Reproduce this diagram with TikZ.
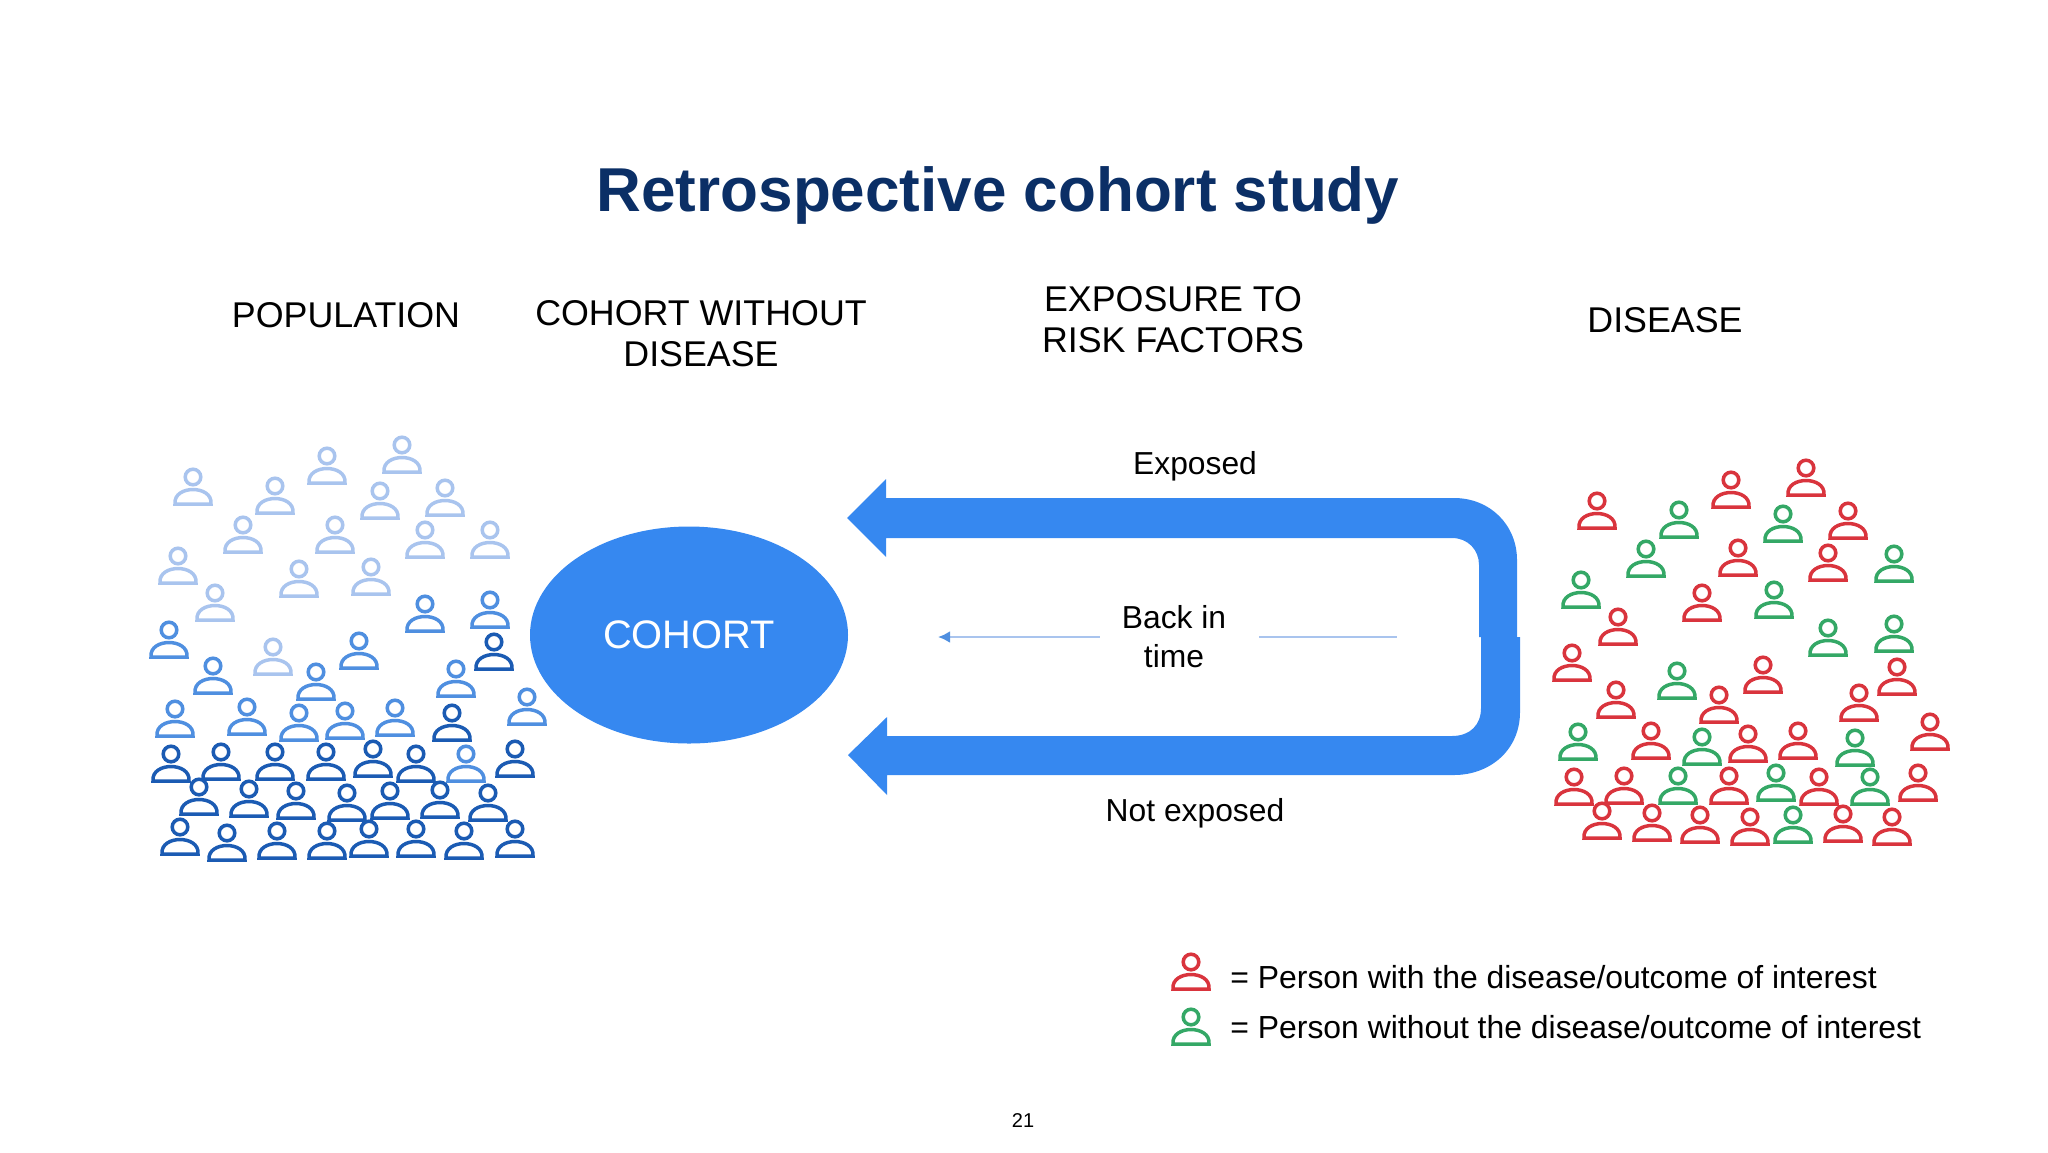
\documentclass[tikz,border=0pt]{standalone}
\usepackage{fontspec}
\setmainfont{Liberation Sans}
\usetikzlibrary{positioning,shapes.geometric,arrows.meta}
\definecolor{titlenavy}{HTML}{0B2F66}
\definecolor{bandblue}{HTML}{3688F0}
\definecolor{popl}{HTML}{A9C4EE}
\definecolor{popm}{HTML}{4F8FE0}
\definecolor{popd}{HTML}{1B5BB3}
\definecolor{sickred}{HTML}{D9343D}
\definecolor{wellgreen}{HTML}{34A866}
\tikzset{
	head/.style={font=\fontsize{17.9}{20.5}\selectfont,align=center,inner sep=0pt},
	small/.style={font=\fontsize{15.9}{19.5}\selectfont,align=center,inner sep=0pt},
	legend/.style={font=\fontsize{15.95}{19}\selectfont,anchor=west,inner sep=0pt},
	band/.style={fill=bandblue},
	timeline/.style={draw=popl,line width=1.4pt},
}
% one person, head centre at (#1,#2)
\newcommand{\person}[3]{
	\begin{scope}[shift={(#1,#2)},draw=#3,line width=1.75pt]
		\draw (0,0) circle (7.8);
		\draw (-18,27) -- (18,27) .. controls (19,17) and (9,12.5) .. (0,12.5)
		.. controls (-9,12.5) and (-19,17) .. (-18,27) -- cycle;
	\end{scope}
}
\begin{document}
\begin{tikzpicture}[x=0.5pt,y=-0.5pt]
		\useasboundingbox (0,0) rectangle (2048,1152);
		\node [font=\fontsize{31}{36}\selectfont\bfseries,text=titlenavy,inner sep=0pt] (title) at (998,195) {Retrospective cohort study};
		\node [head] (population) at (346,315) {POPULATION};
		\node [head] (cohorthead) at (701,334) {COHORT WITHOUT\\DISEASE};
		\node [head] (exposure) at (1173,320) {EXPOSURE TO\\RISK FACTORS};
		\node [head] (disease) at (1665,320) {DISEASE};
		\node [ellipse,fill=bandblue,text=white,inner sep=0pt,minimum width=159pt,minimum height=108.5pt,
		font=\fontsize{19.9}{24}\selectfont] (cohort) at (689,635) {COHORT};
		% the two arrows and the bend
		\path [band] (847,518) -- (886,479) -- (886,498) -- (1454,498)
		.. controls (1490,498) and (1517,525) .. (1517,560) -- (1517,637) -- (1520,637) -- (1520,712)
		.. controls (1520,750) and (1490,775) .. (1454,775) -- (887,775) -- (887,795) -- (848,755)
		-- (887,717) -- (887,736) -- (1452,736) .. controls (1470,736) and (1481,725) .. (1481,708)
		-- (1481,637) -- (1479,637) -- (1479,565) .. controls (1479,550) and (1468,538) .. (1452,538)
		-- (886,538) -- (886,557) -- cycle;
		\node [small] (exposed) at (1195,466) {Exposed};
		\node [small] (notexposed) at (1195,813) {Not exposed};
		\node [small,minimum width=74pt] (backtime) at (1174,637) {Back in\\time};
		\coordinate (backtip) at (938,637);
		\coordinate (backend) at (1397,637);
		\draw [timeline,-{Latex[length=6pt,width=6pt,color=popm]}] (backtime.west) -- (backtip);
		\draw [timeline,shorten <=5.5pt] (backtime.east) -- (backend);
		% population
		\foreach \a/\b in {193/477,275/486,327/456,402/445,380/491,445/488,243/525,335/525,
			425/530,490/530,178/556,299/569,371/567,215/593,273/647}
		{\person{\a}{\b}{popl}}
		\foreach \a/\b in {425/604,490/600,169/630,359/641,213/666,316/672,456/669,527/697,
			175/709,247/707,299/713,345/711,395/708,466/754}
		{\person{\a}{\b}{popm}}
		\foreach \a/\b in {494/642,452/713,171/754,221/752,275/752,326/752,373/749,416/754,515/749,
			199/787,249/789,296/791,347/793,390/791,440/790,488/793,
			180/827,227/833,277/831,327/831,369/829,416/829,464/831,515/829}
		{\person{\a}{\b}{popd}}
		% disease
		\foreach \a/\b in {1597/501,1731/480,1806/468,1848/511,1738/548,1828/553,1702/593,1618/617,
			1572/653,1763/665,1897/667,1616/690,1719/695,1859/693,1930/722,1651/731,1748/734,1798/731,
			1574/777,1624/776,1729/776,1819/777,1918/773,
			1602/811,1652/813,1700/815,1750/817,1843/814,1892/817}
		{\person{\a}{\b}{sickred}}
		\foreach \a/\b in {1679/510,1783/514,1646/549,1894/554,1581/580,1774/590,1828/628,1894/624,
			1677/671,1578/732,1702/737,1855/738,1678/776,1776/773,1870/777,1793/815}
		{\person{\a}{\b}{wellgreen}}
		% legend
		\person{1191}{962}{sickred}
		\person{1191}{1017}{wellgreen}
		\node [legend] (withdisease) at (1230,977) {= Person with the disease/outcome of interest};
		\node [legend] (nodisease) at (1230,1027) {= Person without the disease/outcome of interest};
		\node [font=\fontsize{10}{12}\selectfont,inner sep=0pt] (pagenum) at (1023,1120) {21};
\end{tikzpicture}
\end{document}
